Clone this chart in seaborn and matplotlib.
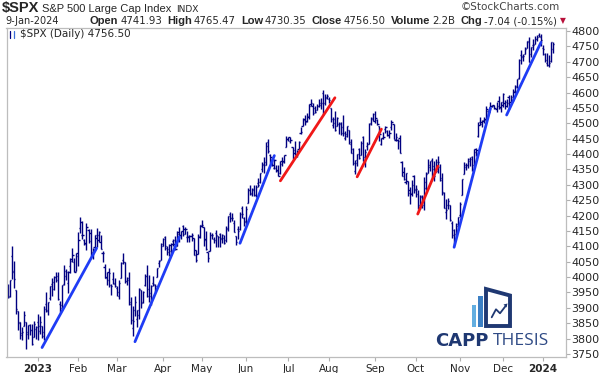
import pandas as pd
import numpy as np
import matplotlib
matplotlib.use("Agg")
import matplotlib.pyplot as plt
import matplotlib.patches as mpatches
import seaborn as sns

# daily OHLC of $SPX, 9-Dec-2022 .. 9-Jan-2024
opens = [3954, 3939, 4069, 4016, 3958, 3891, 3853, 3811, 3840, 3853, 3815, 3843, 3829, 3805, 3830,
    3853, 3840, 3840, 3823, 3911, 3889, 3932, 3977, 3960, 3999, 4002, 3912, 3910, 3979, 4002, 3982, 4036, 4053, 4049, 4021,
    4070, 4158, 4137, 4120, 4106, 4153, 4144, 4069, 4097, 4127, 4119, 4114, 4077, 4034, 4001, 4018, 3974, 3993, 3977,
    3964, 3938, 3998, 4055, 4048, 3988, 3998, 3912, 3835, 3894, 3865, 3878, 3959, 3918, 3975, 4003, 3960, 3939, 3982, 3974, 3999, 4047, 4057,
    4102, 4129, 4095, 4082, 4085, 4116, 4121, 4101, 4140, 4137, 4165, 4140, 4130, 4133, 4133, 4126, 4087, 4075, 4129,
    4166, 4164, 4123, 4082, 4084, 4137, 4124, 4143, 4132, 4139, 4127, 4128, 4122, 4157, 4204, 4191, 4177, 4132, 4155, 4156, 4226, 4191,
    4183, 4242, 4282, 4271, 4285, 4268, 4305, 4309, 4353, 4366, 4366, 4440, 4396, 4380, 4356, 4355, 4345, 4338, 4367, 4375, 4422,
    4450, 4442, 4423, 4404, 4395, 4415, 4467, 4492, 4514, 4508, 4522, 4563, 4555, 4551, 4543, 4555, 4558, 4599, 4566, 4585,
    4579, 4550, 4495, 4514, 4491, 4499, 4502, 4487, 4451, 4459, 4479, 4433, 4417, 4345, 4380, 4416, 4397, 4456, 4390, 4426, 4433, 4500, 4518,
    4531, 4511, 4491, 4434, 4452, 4481, 4474, 4463, 4488, 4497, 4445, 4445, 4452, 4375, 4341, 4310, 4312, 4283, 4270, 4328,
    4284, 4270, 4234, 4259, 4234, 4289, 4339, 4366, 4380, 4360, 4343, 4346, 4357, 4322, 4274, 4211, 4236, 4233, 4175, 4152, 4139, 4172,
    4202, 4268, 4335, 4365, 4365, 4385, 4392, 4365, 4407, 4458, 4505, 4497, 4510, 4512, 4539, 4553, 4556, 4555, 4546, 4571, 4554,
    4560, 4565, 4556, 4587, 4568, 4576, 4601, 4618, 4647, 4721, 4714, 4725, 4744, 4764, 4725, 4754, 4759, 4773, 4786, 4782,
    4745, 4726, 4697, 4690, 4703, 4742]
highs = [3977, 3991, 4100, 4053, 3959, 3891, 3855, 3839, 3889, 3853, 3845, 3846, 3849, 3858, 3840,
    3879, 3873, 3840, 3907, 3951, 3919, 3970, 3997, 4004, 4015, 4015, 3923, 3973, 4040, 4026, 4020, 4061, 4095, 4063, 4077,
    4148, 4195, 4183, 4124, 4176, 4156, 4156, 4094, 4138, 4160, 4149, 4137, 4084, 4041, 4018, 4028, 3979, 4018, 3998,
    3971, 3990, 4049, 4079, 4050, 4001, 4017, 3934, 3906, 3937, 3894, 3964, 3959, 3956, 4010, 4039, 4007, 3973, 4004, 3979, 4030, 4057, 4110,
    4128, 4134, 4100, 4108, 4110, 4124, 4134, 4150, 4164, 4151, 4170, 4163, 4149, 4138, 4143, 4126, 4089, 4139, 4170,
    4187, 4164, 4149, 4083, 4147, 4143, 4131, 4154, 4133, 4143, 4141, 4136, 4165, 4199, 4213, 4210, 4186, 4132, 4166, 4212, 4231, 4196,
    4232, 4290, 4299, 4289, 4299, 4298, 4322, 4340, 4375, 4392, 4439, 4449, 4401, 4387, 4383, 4366, 4363, 4379, 4390, 4398, 4458,
    4457, 4454, 4423, 4441, 4412, 4443, 4489, 4517, 4528, 4532, 4563, 4579, 4565, 4555, 4564, 4580, 4583, 4607, 4594, 4595,
    4585, 4551, 4519, 4540, 4520, 4503, 4503, 4528, 4476, 4490, 4479, 4449, 4421, 4382, 4401, 4419, 4443, 4458, 4418, 4439, 4500, 4522, 4532,
    4541, 4515, 4491, 4452, 4473, 4490, 4478, 4479, 4511, 4497, 4467, 4449, 4461, 4376, 4357, 4338, 4313, 4294, 4317, 4333,
    4300, 4283, 4268, 4268, 4325, 4341, 4385, 4378, 4386, 4377, 4384, 4394, 4367, 4340, 4276, 4255, 4257, 4233, 4183, 4156, 4177, 4195,
    4245, 4319, 4373, 4372, 4387, 4391, 4394, 4416, 4421, 4504, 4521, 4511, 4521, 4557, 4542, 4569, 4560, 4561, 4568, 4588, 4569,
    4600, 4575, 4579, 4591, 4591, 4610, 4623, 4644, 4709, 4739, 4726, 4749, 4769, 4779, 4749, 4773, 4784, 4786, 4793, 4789,
    4755, 4729, 4727, 4721, 4764, 4765]
lows = [3933, 3935, 3994, 3966, 3880, 3828, 3800, 3796, 3840, 3765, 3798, 3813, 3780, 3805, 3800,
    3794, 3815, 3802, 3797, 3888, 3877, 3925, 3937, 3957, 3985, 3926, 3885, 3900, 3973, 3990, 3949, 4013, 4049, 4015, 4020,
    4037, 4142, 4124, 4104, 4088, 4112, 4070, 4060, 4092, 4097, 4114, 4090, 4048, 3997, 3973, 3969, 3943, 3977, 3968,
    3940, 3929, 3996, 4043, 3980, 3975, 3909, 3847, 3809, 3874, 3838, 3864, 3901, 3917, 3972, 3936, 3920, 3909, 3971, 3951, 3999, 4033, 4056,
    4102, 4087, 4073, 4070, 4072, 4102, 4087, 4100, 4114, 4124, 4135, 4140, 4114, 4114, 4118, 4071, 4050, 4075, 4127,
    4164, 4100, 4088, 4048, 4084, 4123, 4110, 4099, 4099, 4099, 4110, 4109, 4113, 4149, 4180, 4181, 4145, 4103, 4125, 4154, 4192, 4166,
    4171, 4241, 4266, 4263, 4265, 4262, 4293, 4305, 4342, 4337, 4363, 4403, 4371, 4360, 4353, 4342, 4328, 4336, 4360, 4371, 4422,
    4442, 4436, 4385, 4398, 4389, 4410, 4464, 4490, 4493, 4505, 4514, 4557, 4528, 4532, 4542, 4553, 4548, 4528, 4561, 4580,
    4567, 4505, 4486, 4475, 4491, 4465, 4462, 4458, 4447, 4454, 4433, 4404, 4364, 4335, 4361, 4385, 4397, 4376, 4357, 4414, 4432, 4496, 4507,
    4502, 4496, 4443, 4431, 4448, 4467, 4458, 4453, 4479, 4448, 4442, 4417, 4402, 4329, 4317, 4303, 4265, 4239, 4265, 4274,
    4260, 4220, 4220, 4225, 4219, 4284, 4339, 4346, 4325, 4311, 4343, 4338, 4311, 4268, 4224, 4190, 4223, 4182, 4128, 4103, 4133, 4154,
    4197, 4268, 4334, 4347, 4355, 4360, 4344, 4354, 4394, 4457, 4496, 4488, 4500, 4510, 4525, 4546, 4553, 4545, 4537, 4547, 4537,
    4554, 4547, 4552, 4546, 4565, 4574, 4600, 4615, 4644, 4694, 4701, 4724, 4744, 4698, 4717, 4737, 4758, 4768, 4780, 4751,
    4723, 4700, 4687, 4682, 4699, 4730]
closes = [3934, 3990, 4019, 3995, 3895, 3852, 3817, 3821, 3878, 3822, 3845, 3829, 3783, 3849, 3839,
    3824, 3853, 3808, 3895, 3892, 3919, 3970, 3983, 3999, 3991, 3929, 3899, 3973, 4020, 4017, 4016, 4060, 4071, 4018, 4077,
    4119, 4180, 4136, 4111, 4164, 4118, 4082, 4090, 4137, 4136, 4148, 4090, 4079, 3997, 3991, 4012, 3970, 3982, 3970,
    3951, 3981, 4046, 4048, 3986, 3992, 3918, 3862, 3856, 3919, 3892, 3960, 3917, 3952, 4003, 3937, 3949, 3971, 3978, 3971, 4028, 4051, 4109,
    4125, 4101, 4090, 4105, 4109, 4109, 4092, 4146, 4138, 4151, 4155, 4155, 4130, 4134, 4137, 4072, 4056, 4135, 4169,
    4168, 4120, 4091, 4061, 4136, 4138, 4119, 4138, 4131, 4124, 4136, 4110, 4159, 4198, 4192, 4193, 4146, 4115, 4151, 4205, 4206, 4180,
    4221, 4282, 4274, 4284, 4268, 4294, 4299, 4339, 4369, 4373, 4426, 4410, 4389, 4366, 4382, 4348, 4329, 4378, 4377, 4396, 4450,
    4456, 4447, 4412, 4399, 4410, 4439, 4472, 4510, 4505, 4523, 4555, 4566, 4535, 4536, 4555, 4567, 4567, 4537, 4582, 4589,
    4577, 4513, 4502, 4478, 4518, 4499, 4468, 4469, 4464, 4490, 4438, 4404, 4370, 4370, 4400, 4388, 4436, 4376, 4406, 4433, 4498, 4515, 4508,
    4516, 4497, 4465, 4451, 4457, 4487, 4462, 4467, 4505, 4450, 4454, 4444, 4402, 4330, 4320, 4337, 4274, 4275, 4300, 4288,
    4288, 4229, 4264, 4258, 4309, 4336, 4358, 4377, 4350, 4328, 4374, 4373, 4315, 4278, 4224, 4217, 4248, 4187, 4137, 4117, 4167, 4194,
    4238, 4318, 4358, 4366, 4378, 4383, 4347, 4415, 4412, 4496, 4503, 4508, 4514, 4547, 4538, 4557, 4559, 4550, 4555, 4551, 4568,
    4595, 4570, 4567, 4549, 4586, 4604, 4622, 4644, 4707, 4720, 4719, 4741, 4768, 4698, 4747, 4755, 4775, 4782, 4783, 4770,
    4743, 4705, 4689, 4697, 4764, 4757]

holidays = ['2022-12-26', '2023-01-02', '2023-01-16', '2023-02-20', '2023-04-07', '2023-05-29',
            '2023-06-19', '2023-07-04', '2023-09-04', '2023-11-23', '2023-12-25', '2024-01-01']
dates = pd.bdate_range('2022-12-09', '2024-01-09')
dates = dates[~dates.isin(pd.to_datetime(holidays))]

month_labels = ['2023', 'Feb', 'Mar', 'Apr', 'May', 'Jun', 'Jul', 'Aug', 'Sep', 'Oct', 'Nov', 'Dec', '2024']
price_ticks = list(range(3750, 4801, 50))

# hand drawn trend lines: start date, start price, end date, end price
trend_start = ['2023-01-05', '2023-03-14', '2023-05-26', '2023-06-27', '2023-08-21', '2023-10-03', '2023-10-27', '2023-12-05']
trend_start_px = [3771, 3790, 4110, 4313, 4326, 4205, 4097, 4527]
trend_end = ['2023-02-14', '2023-04-14', '2023-06-22', '2023-08-04', '2023-09-07', '2023-10-17', '2023-11-22', '2023-12-29']
trend_end_px = [4094, 4131, 4395, 4583, 4481, 4361, 4549, 4763]
trend_color = ['#1f3cf5', '#1f3cf5', '#1f3cf5', '#f01818', '#f01818', '#f01818', '#1f3cf5', '#1f3cf5']

# quote line in the header
quote_labels = ['Open', 'High', 'Low', 'Close', 'Volume', 'Chg']
quote_values = ['4741.93', '4765.47', '4730.35', '4756.50', '2.2B', '-7.04 (-0.15%)']

df = pd.DataFrame({'date': dates, 'open': opens, 'high': highs, 'low': lows, 'close': closes})
df['pos'] = np.arange(len(df))
pos_of = dict(zip(df['date'].dt.strftime('%Y-%m-%d'), df['pos']))

sns.set_style('white')
plt.rcParams['font.family'] = ['DejaVu Sans']

W, H = 600, 373
fig = plt.figure(figsize=(6, 3.73), dpi=100)
ax = fig.add_axes([6.5 / W, 1 - 357.3 / H, (566 - 6.5) / W, (357.3 - 28.3) / H])

bar_col = '#000080'
ax.vlines(df['pos'], df['low'], df['high'], color=bar_col, lw=1.0)
ax.hlines(df['open'], df['pos'] - 0.6, df['pos'], color=bar_col, lw=1.0)
ax.hlines(df['close'], df['pos'], df['pos'] + 0.6, color=bar_col, lw=1.0)

for s, sp, e, ep, c in zip(trend_start, trend_start_px, trend_end, trend_end_px, trend_color):
    sns.lineplot(x=[pos_of[s], pos_of[e]], y=[sp, ep], color=c, lw=2.0, ax=ax)

first_of_month = df[df['date'] >= '2023-01-01'].groupby(df['date'].dt.to_period('M'))['pos'].min()
ax.set_xticks(first_of_month.values)
ax.set_xticklabels(month_labels, fontsize=7.5)
for lab in ax.get_xticklabels():
    if lab.get_text() in ('2023', '2024'):
        lab.set_fontweight('bold')
ax.set_yticks(price_ticks)
ax.set_yticklabels([str(p) for p in price_ticks], fontsize=8)
ax.yaxis.tick_right()
ax.tick_params(axis='y', length=3, width=0.8, color='#b0b0b0', pad=1)
ax.tick_params(axis='x', length=3, width=0.8, color='#b0b0b0', pad=2, bottom=True)
for sp in ax.spines.values():
    sp.set_color('#bdbdbd')
    sp.set_linewidth(0.9)

ax.set_xlim(-0.6, 276.4)
ax.set_ylim(3739.3, 4808.8)
ax.set_xlabel('')
ax.set_ylabel('')


def fx(px):
    return px / W


def fy(py):
    return 1 - py / H


renderer = fig.canvas.get_renderer()


def chain(texts, x0, y, gaps):
    # put texts one after another starting at pixel x0
    x = x0
    for t, g in zip(texts, gaps):
        t.set_position((fx(x), fy(y)))
        x += t.get_window_extent(renderer).width + g
    return x


# header line 1
t1 = fig.text(0, 0, '$SPX', fontsize=10.5, fontweight='bold', va='baseline', family='Liberation Sans')
t2 = fig.text(0, 0, 'S&P 500 Large Cap Index', fontsize=8, va='baseline', family='Liberation Sans')
t3 = fig.text(0, 0, 'INDX', fontsize=6.5, va='baseline')
chain([t1, t2, t3], 2, 12, [3, 4, 0])
fig.text(fx(560), fy(7), '\u00a9StockCharts.com', fontsize=7.5, va='center', ha='right', color='#444444')

# header line 2
fig.text(fx(5), fy(21), '9-Jan-2024', fontsize=7, va='center')
pieces, gaps = [], []
for lab, val in zip(quote_labels, quote_values):
    pieces.append(fig.text(0, 0, lab, fontsize=8, fontweight='bold', va='center', family='Liberation Sans'))
    gaps.append(2)
    pieces.append(fig.text(0, 0, val, fontsize=7.3, va='center'))
    gaps.append(5)
total = sum(p.get_window_extent(renderer).width for p in pieces) + sum(gaps[:-1])
chain(pieces, 557 - total, 21, gaps)
fig.text(fx(563), fy(21), '\u25bc', fontsize=5.5, va='center', ha='center', color='#b8103a')

# legend line inside plot
fig.text(fx(20), fy(34), '$SPX (Daily) 4756.50', fontsize=7.5, va='center')
fig.add_artist(plt.Line2D([fx(10), fx(10)], [fy(30.5), fy(37.5)], color=bar_col, lw=0.9))
fig.add_artist(plt.Line2D([fx(14), fx(14)], [fy(31), fy(38)], color='#3a6fd8', lw=0.9))

# CAPP THESIS watermark
logo_dark = '#1f3872'
fig.add_artist(mpatches.Rectangle((fx(472.3), fy(326.7)), fx(3.4), (326.7 - 305) / H,
                                  transform=fig.transFigure, color='#63aee0', lw=0))
fig.add_artist(mpatches.Rectangle((fx(478.3), fy(326.7)), fx(5), (326.7 - 295.7) / H,
                                  transform=fig.transFigure, color='#3b7fc4', lw=0))
fig.add_artist(mpatches.Polygon([(fx(486), fy(326)), (fx(486), fy(289)), (fx(510), fy(295.5)),
                                 (fx(510), fy(326))], closed=True, transform=fig.transFigure,
                                facecolor='white', edgecolor=logo_dark, lw=2.8))
fig.add_artist(plt.Line2D([fx(491.7), fx(496), fx(500), fx(506)], [fy(317.3), fy(309.3), fy(313.3), fy(305.5)],
                          color=logo_dark, lw=1.3))
fig.add_artist(mpatches.Polygon([(fx(507.5), fy(303.5)), (fx(503.5), fy(304.5)), (fx(506.5), fy(307.5))],
                                closed=True, transform=fig.transFigure, color=logo_dark, lw=0))
fig.text(fx(488.3), fy(341), 'CAPP', fontsize=13, fontweight='bold', ha='right', va='center',
         color=logo_dark, family='DejaVu Sans')
fig.text(fx(549), fy(341), 'THESIS', fontsize=12.5, ha='right', va='center', color='#2f4a85', family='Open Sans')

fig.savefig('out.png', dpi=100)
